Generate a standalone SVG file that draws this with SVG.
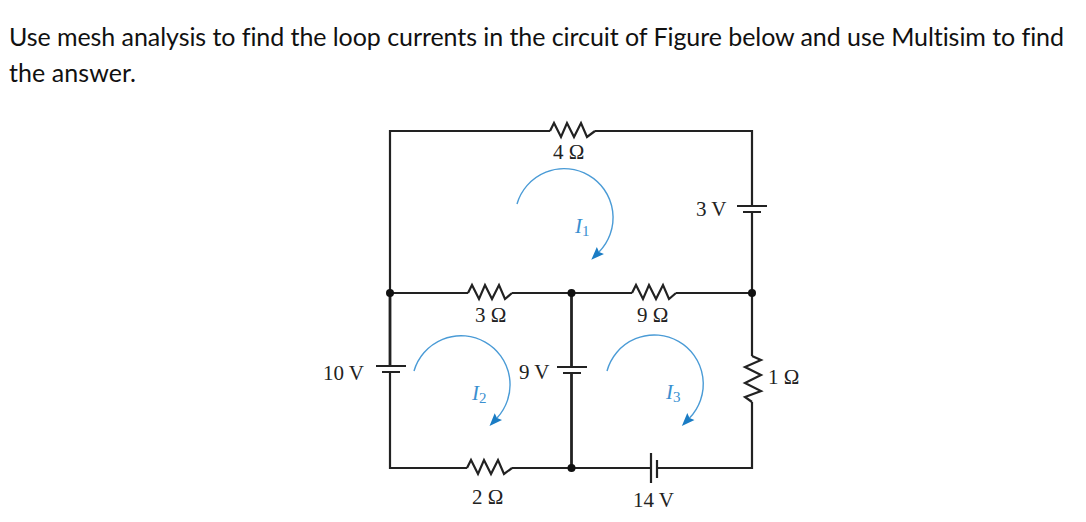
<svg xmlns="http://www.w3.org/2000/svg" width="1086" height="522" viewBox="0 0 1086 522">
<style>
.bg{fill:#fff}
.q{font-family:"Lato","Open Sans",sans-serif;font-size:25px;fill:#111;font-variant-ligatures:none}
.l{font-family:"Liberation Serif",serif;font-size:21px;fill:#222}
.c{font-family:"Liberation Serif",serif;font-size:21px;font-style:italic;fill:#3a8fd0}
.c tspan{font-style:normal;font-size:15px}
.w{fill:none;stroke:#222;stroke-width:2.2;stroke-linejoin:miter}
.t{stroke-width:2.8}
.d{fill:#111}
.a{fill:none;stroke:#4a9bd6;stroke-width:1.4}
.h{fill:#1a7cc4}
</style>
<defs>
<marker id="ah" markerUnits="userSpaceOnUse" markerWidth="16" markerHeight="12" viewBox="-3 -6 16 12" refX="0" refY="0" orient="auto"><polygon class="h" points="11,0 -2,-5 0,0 -2,5"/></marker>
</defs>
<rect class="bg" width="1086" height="522"/>
<g id="question">
<text class="q" x="9" y="46" textLength="1055" lengthAdjust="spacing">Use mesh analysis to find the loop currents in the circuit of Figure below and use Multisim to find</text>
<text class="q" x="9" y="82" textLength="127" lengthAdjust="spacing">the answer.</text>
</g>
<g id="connectors">
<path class="w" d="M550 131H390V293"/>
<path class="w" d="M595 131H752V206"/>
<path class="w" d="M752 212V293"/>
<path class="w" d="M390 293H468"/>
<path class="w" d="M512 293H632"/>
<path class="w" d="M676 293H752"/>
<path class="w t" d="M390 293V366"/>
<path class="w" d="M390 372V468H467"/>
<path class="w" d="M512 468H651"/>
<path class="w" d="M657 468H752V402"/>
<path class="w" d="M752 293V356"/>
<path class="w t" d="M571.5 293V367"/>
<path class="w t" d="M571.5 373V468"/>
</g>
<g id="R4"><path class="w" d="M550 131L554 123L561 137L567 123L574 137L581 123L587 137L595 131"/><text class="l" x="553" y="159">4 Ω</text></g>
<g id="R3"><path class="w" d="M468 293L472 285L479 299L485 285L492 299L499 285L505 299L512 293"/><text class="l" x="475" y="322">3 Ω</text></g>
<g id="R9"><path class="w" d="M632 293L636 285L643 299L649 285L656 299L663 285L669 299L676 293"/><text class="l" x="637" y="322">9 Ω</text></g>
<g id="R2"><path class="w" d="M467 468L471 460L478 474L484 460L491 474L498 460L504 474L512 468"/><text class="l" x="472" y="504">2 Ω</text></g>
<g id="R1"><path class="w" d="M752 356L761 360L745 367L761 375L745 383L761 391L745 397L752 402"/><text class="l" x="768" y="384">1 Ω</text></g>
<g id="V3"><path class="w" d="M737 206H767M743 212H761"/><text class="l" x="696" y="216">3 V</text></g>
<g id="V10"><path class="w" d="M376 366H406M382 372H400"/><text class="l" x="323" y="380">10 V</text></g>
<g id="V9"><path class="w" d="M557 367H587M563 373H581"/><text class="l" x="519" y="379">9 V</text></g>
<g id="V14"><path class="w" d="M651 453V483M657 460V478"/><text class="l" x="633" y="507">14 V</text></g>
<g id="junctions">
<circle class="d" cx="390" cy="293" r="4"/>
<circle class="d" cx="571.5" cy="293" r="4"/>
<circle class="d" cx="752" cy="293" r="4"/>
<circle class="d" cx="571.5" cy="468" r="4"/>
</g>
<g id="I1"><path class="a" marker-end="url(#ah)" d="M517 204A49 49 0 1 1 599 252"/><text class="c" x="575" y="233">I<tspan dy="3">1</tspan></text></g>
<g id="I2"><path class="a" marker-end="url(#ah)" d="M414 371A49 49 0 1 1 497 418"/><text class="c" x="472" y="400">I<tspan dy="3">2</tspan></text></g>
<g id="I3"><path class="a" marker-end="url(#ah)" d="M607 371A49 49 0 1 1 689.5 418"/><text class="c" x="666" y="399">I<tspan dy="3">3</tspan></text></g>
</svg>
